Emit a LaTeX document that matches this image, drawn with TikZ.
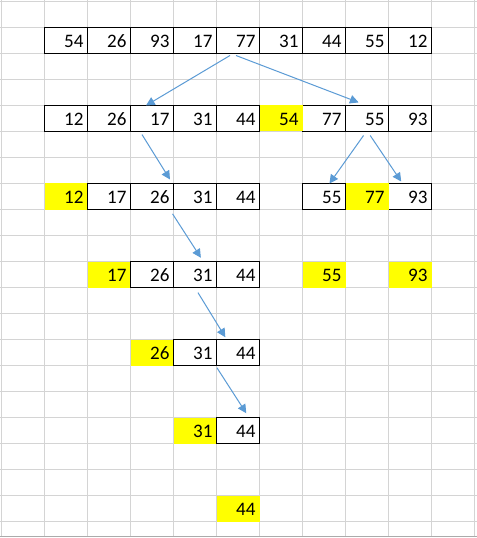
\documentclass[tikz,border=0pt]{standalone}
\usepackage{fontspec}
\setmainfont{Carlito}
\usetikzlibrary{arrows.meta}

\definecolor{gridgray}{HTML}{D4D4D4}
\definecolor{edgegray}{HTML}{ABABAB}
\definecolor{arrowblue}{HTML}{5B9BD5}
\definecolor{pivot}{HTML}{FFFF00}

\tikzset{
	cell/.style={minimum width=32.25pt, minimum height=19.5pt, inner xsep=3pt, inner ysep=0pt,
		outer sep=0pt, text width=26.25pt, align=right, text height=11.2pt, text depth=0pt,
		font=\fontsize{14.3pt}{16pt}\selectfont},
	boxcell/.style={cell, draw=black, line width=0.75pt},
	keycell/.style={cell, fill=pivot},
	gridline/.style={draw=gridgray, line width=0.75pt},
	split/.style={draw=arrowblue, line width=0.75pt, -{Triangle[length=6.5pt, width=6.5pt]}}
}

\begin{document}
\begin{tikzpicture}[x=0.75pt, y=-0.75pt]
	\useasboundingbox (0,0) rectangle (477,538);
	\fill[white] (0,0) rectangle (477,538);
	
	% sheet grid
	\foreach \k in {0,...,11}
		\draw[gridline] ({1.5+43*\k},0) -- ({1.5+43*\k},536);
	\foreach \k in {0,...,20}
		\draw[gridline] (0,{1.5+26*\k}) -- (477,{1.5+26*\k});
	\draw[draw=edgegray, line width=1.2pt] (0,536.5) -- (477,536.5);
	
	% row 1
	\foreach \c/\v in {1/54, 2/26, 3/93, 4/17, 5/77, 6/31, 7/44, 8/55, 9/12}
		\node[boxcell] (n1-\c) at ({23+43*\c},40.5) {\v};
	
	% row 4
	\foreach \c/\v in {1/12, 2/26, 3/17, 4/31, 5/44, 7/77, 8/55, 9/93}
		\node[boxcell] (n4-\c) at ({23+43*\c},118.5) {\v};
	\node[keycell] (n4-6) at ({23+43*6},118.5) {54};
	
	% row 7
	\node[keycell] (n7-1) at ({23+43*1},196.5) {12};
	\foreach \c/\v in {2/17, 3/26, 4/31, 5/44, 7/55, 9/93}
		\node[boxcell] (n7-\c) at ({23+43*\c},196.5) {\v};
	\node[keycell] (n7-8) at ({23+43*8},196.5) {77};
	
	% row 10
	\foreach \c/\v in {2/17, 7/55, 9/93}
		\node[keycell] (n10-\c) at ({23+43*\c},274.5) {\v};
	\foreach \c/\v in {3/26, 4/31, 5/44}
		\node[boxcell] (n10-\c) at ({23+43*\c},274.5) {\v};
	
	% row 13
	\node[keycell] (n13-3) at ({23+43*3},352.5) {26};
	\foreach \c/\v in {4/31, 5/44}
		\node[boxcell] (n13-\c) at ({23+43*\c},352.5) {\v};
	
	% row 16
	\node[keycell] (n16-4) at ({23+43*4},430.5) {31};
	\node[boxcell] (n16-5) at ({23+43*5},430.5) {44};
	
	% row 19
	\node[keycell] (n19-5) at ({23+43*5},508.5) {44};
	
	% arrows
	\draw[split] ([xshift=-6pt, yshift=-1.5pt]n1-5.south) -- ([xshift=-4.5pt]n4-3.north);
	\draw[split] ([xshift=-1.5pt, yshift=-1.5pt]n1-5.south) -- ([xshift=-6.3pt, yshift=2.3pt]n4-8.north);
	\draw[split] ([xshift=-7.5pt, yshift=-2.3pt]n4-3.south) -- ([xshift=13.5pt, yshift=3pt]n7-3.north);
	\draw[split] ([xshift=15.4pt, yshift=-13pt]n7-3.center) -- ([xshift=4.4pt, yshift=2.8pt]n10-4.north);
	\draw[split] ([xshift=2.2pt, yshift=-3.8pt]n10-4.south) -- ([xshift=-9.5pt, yshift=1.7pt]n13-5.north);
	\draw[split] ([xshift=-15.8pt, yshift=-1.7pt]n13-5.south) -- ([xshift=6.2pt, yshift=3.2pt]n16-5.north);
	\draw[split] ([xshift=-2.6pt, yshift=-3pt]n4-8.south) -- ([xshift=4.1pt]n7-7.north);
	\draw[split] ([xshift=2.4pt, yshift=-3pt]n4-8.south) -- ([xshift=-6.6pt, yshift=1.5pt]n7-9.north);
\end{tikzpicture}
\end{document}
